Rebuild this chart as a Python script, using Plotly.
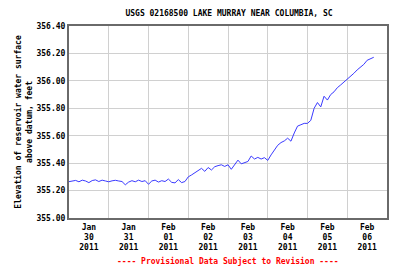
import plotly.graph_objects as go
import pandas as pd

title = "USGS 02168500 LAKE MURRAY NEAR COLUMBIA, SC"
y_title = "Elevation of reservoir water surface<br>above datum, feet"
note = "---- Provisional Data Subject to Revision ----"

start = "2011-01-30 00:00"
step_hours = 2
# gage height, every 2 hours from Jan 30 00:00
elevation = [
    # Jan 30
    355.265, 355.270, 355.274, 355.264, 355.276, 355.270, 355.258, 355.273, 355.278, 355.266, 355.276, 355.270,
    # Jan 31
    355.264, 355.271, 355.275, 355.270, 355.266, 355.242, 355.262, 355.272, 355.264, 355.276, 355.266, 355.272,
    # Feb 1
    355.246, 355.270, 355.276, 355.262, 355.272, 355.266, 355.284, 355.260, 355.256, 355.280, 355.258, 355.266,
    # Feb 2
    355.300, 355.314, 355.332, 355.348, 355.362, 355.340, 355.368, 355.350, 355.374, 355.382, 355.388, 355.376,
    # Feb 3
    355.388, 355.355, 355.392, 355.422, 355.395, 355.402, 355.412, 355.452, 355.430, 355.442, 355.430, 355.440,
    # Feb 4
    355.420, 355.460, 355.500, 355.530, 355.550, 355.562, 355.582, 355.560, 355.620, 355.670, 355.680, 355.690,
    # Feb 5
    355.690, 355.712, 355.800, 355.842, 355.810, 355.888, 355.860, 355.900, 355.920, 355.950, 355.970, 355.990,
    # Feb 6
    356.010, 356.030, 356.055, 356.080, 356.100, 356.120, 356.150, 356.160, 356.172,
]
times = pd.date_range(start, periods=len(elevation), freq=f"{step_hours}h")

x_range = ["2011-01-30", "2011-02-07"]
y_range = [355.0, 356.4]

font_mono = "DejaVu Sans Mono"

fig = go.Figure()
fig.add_trace(go.Scatter(x=times, y=elevation, mode="lines",
                         line=dict(color="#3a3aff", width=1), hoverinfo="skip"))

fig.update_layout(
    width=400, height=267,
    margin=dict(l=69, r=11, t=26, b=49),
    paper_bgcolor="white", plot_bgcolor="white",
    showlegend=False,
    font=dict(family=font_mono, size=8, color="black"),
    title=dict(text="<b>" + title + "</b>", x=(69 + 389) / 2 / 400, xanchor="center",
               y=1 - 13 / 267, yanchor="middle", font=dict(size=8, family=font_mono)),
    xaxis=dict(
        type="date", range=x_range, dtick=86400000, tick0="2011-01-30",
        ticklabelmode="period", tickformat="<b>%b</b><br><b>%d</b><br><b>%Y</b>",
        showgrid=True, gridcolor="#d0d0d0", gridwidth=1.2,
        showline=True, linecolor="#6a6a6a", linewidth=2, mirror=True,
        ticks="", tickfont=dict(size=8, family=font_mono),
    ),
    yaxis=dict(
        range=y_range, dtick=0.2, tick0=355.0, tickformat=".2f",
        showgrid=True, gridcolor="#d0d0d0", gridwidth=1.2,
        showline=True, linecolor="#6a6a6a", linewidth=2, mirror=True,
        ticks="", ticklen=0, tickfont=dict(size=8, family=font_mono),
        title=dict(text="<b>" + y_title + "</b>", font=dict(size=8, family=font_mono), standoff=3),
        zeroline=False,
    ),
)
fig.update_yaxes(tickprefix="<b>", ticksuffix="</b>")

fig.add_annotation(text="<b>" + note + "</b>", xref="paper", yref="paper",
                   x=0.5, y=-(261 - 218) / 192, xanchor="center", yanchor="middle",
                   showarrow=False, font=dict(size=8, family=font_mono, color="red"))

fig.write_html("out.html")
